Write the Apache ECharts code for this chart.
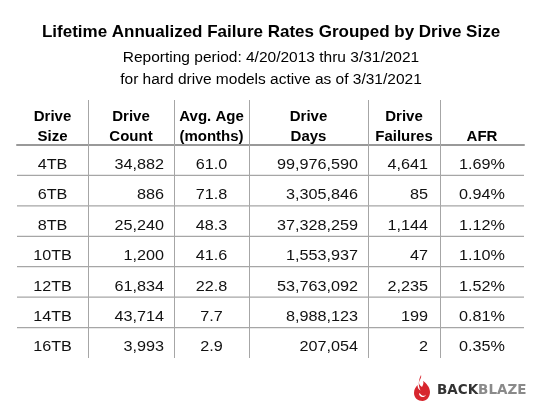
<!DOCTYPE html>
<html>
<head>
<meta charset="utf-8">
<script src="https://cdn.jsdelivr.net/npm/echarts@6/dist/echarts.min.js"></script>
<style>
  html, body { margin: 0; padding: 0; background: #fff; }
  #chart { width: 550px; height: 413px; }
</style>
</head>
<body>
<div id="chart"></div>
<script>
// ---- data ----
var driveSizes    = ['4TB', '6TB', '8TB', '10TB', '12TB', '14TB', '16TB'];
var driveCount    = [34882, 886, 25240, 1200, 61834, 43714, 3993];
var avgAgeMonths  = [61.0, 71.8, 48.3, 41.6, 22.8, 7.7, 2.9];
var driveDays     = [99976590, 3305846, 37328259, 1553937, 53763092, 8988123, 207054];
var driveFailures = [4641, 85, 1144, 47, 2235, 199, 2];
var afrPercent    = [1.69, 0.94, 1.12, 1.10, 1.52, 0.81, 0.35];
var columnHeaders = ['Drive\nSize', 'Drive\nCount', 'Avg. Age\n(months)', 'Drive\nDays', 'Drive\nFailures', 'AFR'];
var titleText     = 'Lifetime Annualized Failure Rates Grouped by Drive Size';
var subtitleText  = 'Reporting period: 4/20/2013 thru 3/31/2021\nfor hard drive models active as of 3/31/2021';

// ---- layout (style, not data) ----
var COL_EDGES = [0, 71, 157, 232, 351, 423, 507];
var COL_ALIGN = ['center', 'right', 'center', 'right', 'right', 'center'];
var COL_PAD   = [0, 10, 0, 10, 12, 0];
var LINE_COLOR = '#a6a6a6';

function colCenter(c) { return (COL_EDGES[c] + COL_EDGES[c + 1]) / 2; }
function colAnchor(c) {
  return COL_ALIGN[c] === 'right' ? COL_EDGES[c + 1] - COL_PAD[c] : colCenter(c);
}
var headerPositions = columnHeaders.map(function (h, c) { return colCenter(c); });
var innerEdges = COL_EDGES.slice(1, COL_EDGES.length - 1);

function fmtInt(v) { return v.toLocaleString('en-US'); }
var cellText = [
  function (i) { return driveSizes[i]; },
  function (i) { return fmtInt(driveCount[i]); },
  function (i) { return avgAgeMonths[i].toFixed(1); },
  function (i) { return fmtInt(driveDays[i]); },
  function (i) { return fmtInt(driveFailures[i]); },
  function (i) { return afrPercent[i].toFixed(2) + '%'; }
];

var flameSvg = '<svg xmlns="http://www.w3.org/2000/svg" width="16" height="26" viewBox="0 0 16 26">' +
  '<path fill="#d7262e" d="M7,0 C8,3 5,5 5,8 C5,10 7,11 8,12 C9,10 10,8 9,6 C12,8 16,12 16,17 C16,22 12.5,26 8.5,26 C4,26 0,23 0,18 C0,14 2,12 3.5,10 C3.5,13 5,15 6.5,15.5 C5.5,13 3,8 7,0 Z"/>' +
  '<path fill="#ffffff" d="M5,18.5 C5,22.5 10.5,23.5 12,19.5 C11,21 8,21.5 6.5,19 C6,18.5 5.5,18 5,18.5 Z"/></svg>';
var flameUrl = 'data:image/svg+xml;charset=utf-8,' + encodeURIComponent(flameSvg);

var chart = echarts.init(document.getElementById('chart'), null, { renderer: 'canvas' });

var option = {
  backgroundColor: '#ffffff',
  animation: false,
  title: [
    {
      text: titleText,
      left: 271, top: 23, padding: 0, textAlign: 'center',
      textStyle: { fontFamily: 'Liberation Sans', fontSize: 17, fontWeight: 'bold', color: '#000', lineHeight: 18 }
    },
    {
      text: subtitleText,
      left: 271, top: 46.5, padding: 0, textAlign: 'center',
      textStyle: { fontFamily: 'Liberation Sans', fontSize: 15.5, fontWeight: 'normal', color: '#000', lineHeight: 22.4 }
    }
  ],
  grid: { left: 17, right: 26, top: 145, bottom: 55, containLabel: false },
  xAxis: {
    type: 'value', position: 'top', min: COL_EDGES[0], max: COL_EDGES[COL_EDGES.length - 1],
    axisLine: { show: true, lineStyle: { color: '#999', width: 2 } },
    axisTick: { show: true, customValues: innerEdges, length: 45, inside: false, lineStyle: { color: LINE_COLOR, width: 1 } },
    splitLine: { show: false },
    axisLabel: {
      show: true, customValues: headerPositions, margin: -1.5,
      fontFamily: 'Liberation Sans', fontSize: 15, fontWeight: 'bold', color: '#000', lineHeight: 20,
      formatter: function (v) {
        var k = headerPositions.indexOf(v);
        return k >= 0 ? columnHeaders[k] : '';
      }
    }
  },
  yAxis: {
    type: 'category', data: driveSizes, inverse: true, show: false,
    axisLine: { show: false }, axisTick: { show: false }, splitLine: { show: false }
  },
  series: [{
    type: 'custom',
    coordinateSystem: 'cartesian2d',
    clip: false,
    data: driveSizes.map(function (s, i) { return [0, i]; }),
    encode: { x: 0, y: 1 },
    renderItem: function (params, api) {
      var i = params.dataIndex;
      var p = api.coord([0, i]);
      var bandH = api.size([0, 1])[1];
      var yTop = p[1] - bandH / 2, yBot = p[1] + bandH / 2;
      var xL = api.coord([COL_EDGES[0], i])[0];
      var xR = api.coord([COL_EDGES[COL_EDGES.length - 1], i])[0];
      var children = [];
      if (i < driveSizes.length - 1) {
        children.push({ type: 'line', shape: { x1: xL, y1: yBot, x2: xR, y2: yBot },
          style: { stroke: LINE_COLOR, lineWidth: 1.2 } });
      }
      innerEdges.forEach(function (e) {
        var x = Math.round(api.coord([e, i])[0]) + 0.5;
        children.push({ type: 'line', shape: { x1: x, y1: yTop, x2: x, y2: yBot },
          style: { stroke: LINE_COLOR, lineWidth: 1 } });
      });
      for (var c = 0; c < cellText.length; c++) {
        var ax = api.coord([colAnchor(c), i])[0];
        children.push({
          type: 'text', x: ax, y: p[1] + 4.5, scaleX: 1.08,
          style: {
            text: cellText[c](i), x: 0, y: 0,
            align: COL_ALIGN[c], verticalAlign: 'middle',
            font: '15px "Liberation Sans"', fill: '#111'
          }
        });
      }
      return { type: 'group', children: children };
    }
  }],
  graphic: [
    {
      type: 'image', left: 414, top: 375,
      style: { image: flameUrl, width: 16, height: 26 }
    },
    {
      type: 'text', left: 437, top: 383.5,
      style: {
        text: '{a|BACK}{b|BLAZE}',
        rich: {
          a: { fontFamily: 'DejaVu Sans', fontSize: 13.5, fontWeight: 'bold', fill: '#333', color: '#333' },
          b: { fontFamily: 'DejaVu Sans', fontSize: 13.5, fontWeight: 'bold', fill: '#8a8a8a', color: '#8a8a8a' }
        }
      }
    }
  ]
};
chart.setOption(option);
</script>
</body>
</html>
